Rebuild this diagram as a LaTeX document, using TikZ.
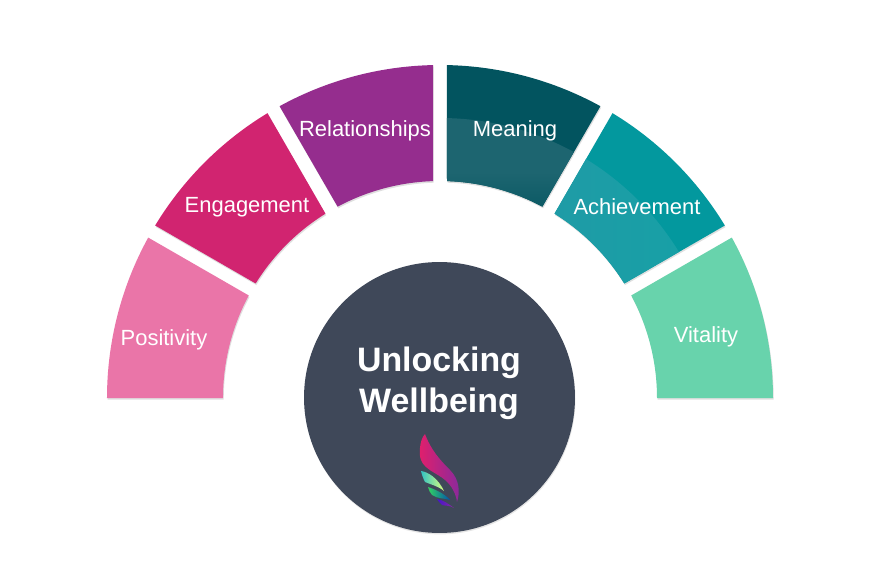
\documentclass[tikz,border=0pt]{standalone}
\usepackage{fontspec}
\setmainfont{Liberation Sans}
\usetikzlibrary{shadows}
\definecolor{positivitypink}{HTML}{EA75A8}
\definecolor{engagementred}{HTML}{D12470}
\definecolor{relationspurple}{HTML}{952D8E}
\definecolor{meaningdark}{HTML}{02545F}
\definecolor{meaninglight}{HTML}{1D6570}
\definecolor{achievementteal}{HTML}{03989E}
\definecolor{achievementlight}{HTML}{1F9BA6}
\definecolor{vitalitygreen}{HTML}{68D3AC}
\definecolor{hubgrey}{HTML}{3F4859}
\definecolor{flamepink}{HTML}{E01F6C}
\definecolor{flamepurple}{HTML}{8A2A9C}
% outer start, outer end, inner end, inner start
\newcommand{\segpath}[4]{(#1:333) arc[start angle=#1, end angle=#2, radius=333] -- (#3:217) arc[start angle=#3, end angle=#4, radius=217] -- cycle}
\tikzset{
  segment/.style={drop shadow={opacity=0.25, shadow xshift=0.4pt, shadow yshift=-0.9pt}},
  seglabel/.style={text=white, font=\fontsize{12.5}{15}\selectfont, inner sep=0pt},
  hubnode/.style={circle, fill=hubgrey, minimum size=5.42cm, inner sep=0pt, drop shadow={opacity=0.2, shadow xshift=0.3pt, shadow yshift=-0.8pt}},
  titlenode/.style={text=white, align=center, inner sep=0pt, font=\fontsize{19.3}{23.3}\selectfont\bfseries},
}
\begin{document}
\begin{tikzpicture}[x=0.02cm, y=0.02cm]
  \useasboundingbox (-440,-173) rectangle (435,398);
  \fill[white] (-440,-173) rectangle (435,398);

  \fill[positivitypink, segment] \segpath{180}{151.2}{151.8}{180};
  \fill[engagementred, segment] \segpath{148.8}{121.2}{121.85}{148.15};
  \fill[relationspurple, segment] \segpath{118.8}{91.2}{91.85}{118.15};
  \fill[meaningdark, segment] \segpath{88.8}{61.2}{61.85}{88.15};
  \fill[achievementteal, segment] \segpath{58.8}{31.2}{31.85}{58.15};
  \fill[vitalitygreen, segment] \segpath{28.8}{0}{0}{28.2};

  % lighter inner bands
  \begin{scope}
    \clip \segpath{88.8}{61.2}{61.85}{88.15};
    \clip (0,0) circle (280);
    \shade[top color=meaninglight, bottom color=meaningdark, middle color=meaninglight] (0,170) rectangle (160,282);
  \end{scope}
  \begin{scope}
    \clip \segpath{58.8}{31.2}{31.85}{58.15};
    \clip (0,0) circle (280);
    \shade[left color=achievementlight, right color=achievementteal!92!white] (110,60) rectangle (250,240);
  \end{scope}

  \node [seglabel] (positivity) at (-276,58) {Positivity};
  \node [seglabel] (engagement) at (-193,191) {Engagement};
  \node [seglabel] (relationships) at (-75,267) {Relationships};
  \node [seglabel] (meaning) at (75,267) {Meaning};
  \node [seglabel] (achievement) at (197,191) {Achievement};
  \node [seglabel] (vitality) at (266,61) {Vitality};

  \node [hubnode] (hub) at (-0.5,0.5) {};
  \node [titlenode] (title) at (-1,15) {Unlocking\\Wellbeing};

  % logo
  \shade[left color=flamepink, right color=flamepurple] (-15,-36) .. controls (-21,-42) and (-21,-58) .. (-19,-62) .. controls (-15,-72) and (-3,-75) .. (5,-82) .. controls (12,-88) and (16,-96) .. (17,-104) .. controls (20,-95) and (20,-82) .. (10,-72) .. controls (0,-62) and (-9,-52) .. (-15,-36) -- cycle;
  \shade[left color=teal!60!cyan!80!white, right color=green!30!yellow!50!white] (-19,-73) .. controls (-12,-74) and (-2,-80) .. (4,-93) .. controls (-2,-88) and (-8,-87) .. (-15,-84) .. controls (-17,-80) and (-18,-77) .. (-19,-73) -- cycle;
  \shade[left color=green!55!teal!80!white, right color=blue!35!teal] (-12,-89) .. controls (-6,-91) and (4,-95) .. (10,-102) .. controls (4,-100) and (-2,-101) .. (-8,-97) .. controls (-10,-95) and (-11,-92) .. (-12,-89) -- cycle;
  \shade[left color=blue!50!flamepurple, right color=flamepurple] (-3,-101) .. controls (3,-102) and (9,-106) .. (14,-110) .. controls (9,-107) and (5,-108) .. (2,-107) .. controls (0,-105) and (-2,-103) .. (-3,-101) -- cycle;
\end{tikzpicture}
\end{document}
